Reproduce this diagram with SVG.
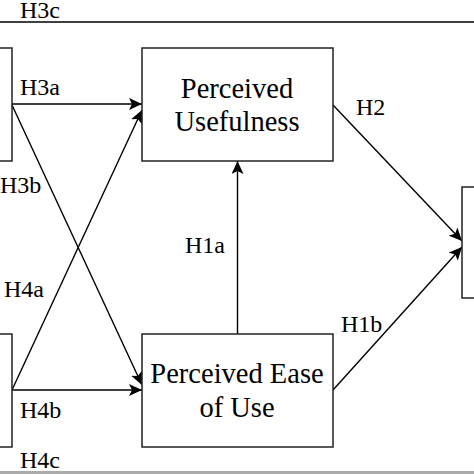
<svg xmlns="http://www.w3.org/2000/svg" width="474" height="474" viewBox="0 0 474 474">
<defs>
<marker id="ah" markerUnits="userSpaceOnUse" markerWidth="14" markerHeight="12" refX="13" refY="6" orient="auto">
<path d="M0,0 L13,6 L0,12 L3,6 Z" fill="#000"/>
</marker>
<style>
.box{fill:#fff;stroke:#222;stroke-width:1.5}
.ln{fill:none;stroke:#000;stroke-width:1.4}
.lbl{font-family:"Liberation Serif","Times New Roman",serif;font-size:24px;fill:#000}
.nt{font-family:"Liberation Serif","Times New Roman",serif;font-size:28.5px;fill:#000;text-anchor:middle}
</style>
</defs>
<rect width="474" height="474" fill="#fff"/>
<g id="topline">
<line class="ln" x1="0" y1="22" x2="474" y2="22" stroke="#333"/>
</g>
<rect x="0" y="471" width="474" height="3" fill="#aaa"/>
<g id="connectors">
<line class="ln" x1="12" y1="104" x2="142" y2="104" marker-end="url(#ah)"/>
<line class="ln" x1="12" y1="105" x2="142" y2="385" marker-end="url(#ah)"/>
<line class="ln" x1="12" y1="390" x2="142" y2="110" marker-end="url(#ah)"/>
<line class="ln" x1="12" y1="390" x2="142" y2="390" marker-end="url(#ah)"/>
<line class="ln" x1="237.5" y1="334" x2="237.5" y2="161" marker-end="url(#ah)"/>
<line class="ln" x1="333" y1="105" x2="462" y2="241" marker-end="url(#ah)"/>
<line class="ln" x1="333" y1="390" x2="462" y2="247" marker-end="url(#ah)"/>
</g>
<g id="left-top">
<rect class="box" x="-10" y="48" width="22" height="113"/>
</g>
<g id="left-bottom">
<rect class="box" x="-10" y="334" width="22" height="113"/>
</g>
<g id="pu">
<rect class="box" x="142" y="48" width="191" height="113"/>
<text class="nt" x="237" y="98">Perceived</text>
<text class="nt" x="237" y="131">Usefulness</text>
</g>
<g id="peou">
<rect class="box" x="142" y="334" width="191" height="113"/>
<text class="nt" x="237" y="383">Perceived Ease</text>
<text class="nt" x="237" y="417">of Use</text>
</g>
<g id="outcome">
<rect class="box" x="462" y="187" width="30" height="111"/>
</g>
<g id="labels">
<text class="lbl" x="20" y="18">H3c</text>
<text class="lbl" x="20" y="95">H3a</text>
<text class="lbl" x="356" y="115">H2</text>
<text class="lbl" x="0" y="193">H3b</text>
<text class="lbl" x="185" y="253">H1a</text>
<text class="lbl" x="4" y="297">H4a</text>
<text class="lbl" x="341" y="332">H1b</text>
<text class="lbl" x="20" y="418">H4b</text>
<text class="lbl" x="20" y="468">H4c</text>
</g>
</svg>
